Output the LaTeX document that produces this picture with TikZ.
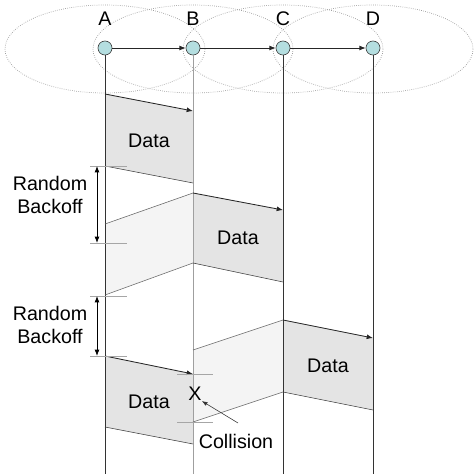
\documentclass[tikz,border=0pt]{standalone}
\usepackage{fontspec}
\setmainfont{Liberation Sans}
\usetikzlibrary{arrows.meta, positioning, calc}
\definecolor{stationfill}{HTML}{B4DEE0}
\definecolor{framedark}{HTML}{E4E4E4}
\definecolor{framelight}{HTML}{F4F4F4}
\begin{document}
\begin{tikzpicture}[x=0.025cm, y=-0.025cm, font=\fontsize{14}{17}\selectfont,
    station/.style={circle, draw=black!80, fill=stationfill, minimum size=10pt, inner sep=0pt},
    txrange/.style={gray!75, densely dotted, line width=0.5pt},
    sig/.style={black!85, semithick, -{Latex[length=4.5pt, width=3.5pt]}},
    frameedge/.style={black!75},
    ghost/.style={black!60},
    tickmark/.style={gray!70},
    backoff/.style={black, semithick, {Latex[length=4.5pt, width=3.5pt]}-{Latex[length=4.5pt, width=3.5pt]}}]
    \useasboundingbox (0,0) rectangle (474,474);
    % transmission ranges
    \foreach \x in {105,193,283,373} {
        \draw[txrange] (\x,49) ellipse [x radius=100, y radius=44];
    }
    % frame corners
    \coordinate (a1t) at (105,94);  \coordinate (b1t) at (193,111);
    \coordinate (b1b) at (193,183); \coordinate (a1b) at (105,166);
    \coordinate (b2t) at (193,193); \coordinate (c2t) at (283,210);
    \coordinate (c2b) at (283,282); \coordinate (b2b) at (193,263);
    \coordinate (a2t) at (105,224); \coordinate (a2b) at (105,295);
    \coordinate (c3t) at (283,320); \coordinate (d3t) at (373,338);
    \coordinate (d3b) at (373,410); \coordinate (c3b) at (283,392);
    \coordinate (b3t) at (193,350); \coordinate (b3b) at (193,422);
    \coordinate (a4t) at (105,356); \coordinate (b4t) at (193,374);
    \coordinate (b4b) at (193,444); \coordinate (a4b) at (105,427);
    % shaded frames
    \fill[framelight] (a2t) -- (b2t) -- (b2b) -- (a2b) -- cycle;
    \fill[framelight] (b3t) -- (c3t) -- (c3b) -- (b3b) -- cycle;
    \fill[framedark] (a1t) -- (b1t) -- (b1b) -- (a1b) -- cycle;
    \fill[framedark] (b2t) -- (c2t) -- (c2b) -- (b2b) -- cycle;
    \fill[framedark] (c3t) -- (d3t) -- (d3b) -- (c3b) -- cycle;
    \fill[framedark] (a4t) -- (b4t) -- (b4b) -- (a4b) -- cycle;
    % stations
    \foreach \n/\x in {A/105,B/193,C/283,D/373} {
        \node[station] (n\n) at (\x,48) {};
        \node[above=7pt of n\n] (l\n) {\n};
        \coordinate (e\n) at (\x,474);
    }
    \draw[black!80, thin] (nA) -- (eA);
    \draw[gray!75, thin] (nB) -- (eB);
    \draw[black!80, thin] (nC) -- (eC);
    \draw[black!80, thin] (nD) -- (eD);
    \draw[sig] (nA) -- (nB);
    \draw[sig] (nB) -- (nC);
    \draw[sig] (nC) -- (nD);
    % frame edges
    \draw[sig] (a1t) -- (b1t);  \draw[frameedge] (a1b) -- (b1b);
    \draw[sig] (b2t) -- (c2t);  \draw[frameedge] (b2b) -- (c2b);
    \draw[ghost] (a2t) -- (b2t); \draw[ghost] (a2b) -- (b2b);
    \draw[sig] (c3t) -- (d3t);  \draw[frameedge] (c3b) -- (d3b);
    \draw[ghost] (b3t) -- (c3t); \draw[ghost] (b3b) -- (c3b);
    \draw[sig] (a4t) -- (b4t);  \draw[frameedge] (a4b) -- (b4b);
    \node (d1) at (149,141) {Data};
    \node (d2) at (238,238) {Data};
    \node (d3) at (328,366) {Data};
    \node (d4) at (149,402) {Data};
    % backoff
    \foreach \y in {166,243,296,356} {
        \draw[tickmark] (90,\y) -- (127,\y);
    }
    \coordinate (r1t) at (97,166); \coordinate (r1b) at (97,243);
    \coordinate (r2t) at (97,296); \coordinate (r2b) at (97,356);
    \draw[backoff] (r1t) -- (r1b);
    \draw[backoff] (r2t) -- (r2b);
    \node[align=center] (rb1) at (50,195) {Random\\Backoff};
    \node[align=center] (rb2) at (50,325) {Random\\Backoff};
    % collision
    \draw[tickmark] (177,374) -- (213,374);
    \draw[tickmark] (177,422) -- (213,422);
    \node[inner sep=0pt] (x) at (195,394) {X};
    \coordinate (cl) at (238,423);
    \draw[black!80, -{Latex[length=4pt, width=3pt]}] (cl) -- (x.south east);
    \node (col) at (236,441) {Collision};
\end{tikzpicture}
\end{document}
